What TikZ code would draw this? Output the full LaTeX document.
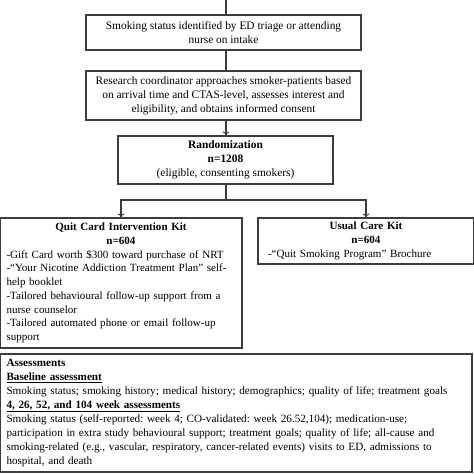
\documentclass[tikz,border=0pt]{standalone}
\usepackage{fontspec}
\setmainfont{Liberation Serif}
\usetikzlibrary{arrows.meta}
\definecolor{edge}{HTML}{3C3C3C}
\frenchspacing
\tikzset{
  box/.style={draw=edge, line width=1.1pt, inner xsep=6pt, inner ysep=2pt, text=black},
  fa/.style={font=\fontsize{11.4}{14.2}\selectfont},
  fb/.style={font=\fontsize{11.05}{13.7}\selectfont},
  fc/.style={font=\fontsize{11.15}{13.9}\selectfont},
  link/.style={draw=edge, line width=1.1pt},
  arr/.style={link, -{To[length=4pt,width=7pt,line width=0.9pt]}},
}
\newcommand{\ctitle}[1]{\makebox[\linewidth][c]{\bfseries #1}}
\begin{document}
\begin{tikzpicture}[x=1pt,y=-1pt]
\useasboundingbox (0,0) rectangle (474,474);
\coordinate (top) at (226,0);
\node[box, fa, minimum width=275pt, minimum height=35pt, align=center] (b1) at (223.5,32.5)
  {Smoking status identified by ED triage or attending\\nurse on intake};
\node[box, fa, minimum width=275pt, minimum height=49pt, align=center] (b2) at (223.5,95.5)
  {Research coordinator approaches smoker-patients based\\on arrival time and CTAS-level, assesses interest and\\eligibility, and obtains informed consent};
\node[box, fa, minimum width=215pt, minimum height=48pt, align=center] (b3) at (225.5,160)
  {\textbf{Randomization}\\\textbf{n=1208}\\(eligible, consenting smokers)};
\node[box, fb, minimum width=242pt, minimum height=130pt, text width=229pt, inner xsep=6.5pt, align=left] (kl) at (121,283)
  {\ctitle{Quit Card Intervention Kit}\\\ctitle{n=604}\\
   -Gift Card worth \$300 toward purchase of NRT\\
   -“Your Nicotine Addiction Treatment Plan” self-\\
   help booklet\\
   -Tailored behavioural follow-up support from a\\
   nurse counselor\\
   -Tailored automated phone or email follow-up\\
   support};
\node[box, fb, minimum width=216pt, minimum height=46pt, text width=196pt, inner xsep=10pt, align=left] (kr) at (366,241)
  {\ctitle{Usual Care Kit}\\\ctitle{n=604}\\
   -“Quit Smoking Program” Brochure};
\node[box, fc, minimum width=472pt, minimum height=118pt, text width=459pt, inner xsep=6.5pt, align=left] (as) at (236,413)
  {\textbf{Assessments}\\
   \textbf{\underline{Baseline assessment}}\\
   Smoking status; smoking history; medical history; demographics; quality of life; treatment goals\\
   \textbf{\underline{4, 26, 52, and 104 week assessments}}\\
   Smoking status (self-reported: week 4; CO-validated: week 26.52,104); medication-use;\\
   participation in extra study behavioural support; treatment goals; quality of life; all-cause and\\
   smoking-related (e.g., vascular, respiratory, cancer-related events) visits to ED, admissions to\\
   hospital, and death};
\coordinate (split) at (226,200);
\draw[link] (top) -- (top |- b1.north);
\draw[link] (top |- b1.south) -- (top |- b2.north);
\draw[arr] (top |- b2.south) -- (top |- b3.north);
\draw[link] (top |- b3.south) -- (split);
\draw[arr] (split) -| (kl.north);
\draw[arr] (split) -| (kr.north);
\end{tikzpicture}
\end{document}
